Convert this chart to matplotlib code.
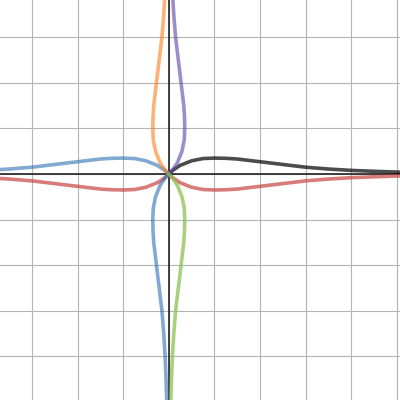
import matplotlib
matplotlib.use("Agg")
import matplotlib.pyplot as plt
import numpy as np

# distance along curve axis (units) and offset from axis (units)
t = np.array([0, 0.1, 0.25, 0.5, 0.75, 1.0, 1.25, 1.5, 2.0, 2.5, 3.0, 3.5, 4.0, 4.5, 5.1])
prof = np.array([0, 0.09, 0.19, 0.29, 0.34, 0.35, 0.345, 0.33, 0.27, 0.21, 0.15, 0.11, 0.08, 0.06, 0.04])

fig = plt.figure(figsize=(4, 4), dpi=100)
ax = fig.add_axes([0, 0, 1, 1])
ax.set_xlim(-3.7, 5.07)
ax.set_ylim(-4.96, 3.82)
for v in range(-4, 6):
    ax.axvline(v, color="#b4b4b4", lw=0.8, zorder=0)
    ax.axhline(v, color="#b4b4b4", lw=0.8, zorder=0)
ax.axvline(0, color="#222222", lw=1.2, zorder=1)
ax.axhline(0, color="#222222", lw=1.2, zorder=1)

lw = 2.6
ax.plot(t, prof, color="#000000", alpha=0.7, lw=lw)            # black right up
ax.plot(t, -prof, color="#c74440", alpha=0.7, lw=lw)           # red right down
ax.plot(-t, -prof, color="#c74440", alpha=0.7, lw=lw)          # red left down
ax.plot(-t, prof, color="#2d70b3", alpha=0.6, lw=lw)           # blue left up
ax.plot(-prof, t, color="#fa7e19", alpha=0.6, lw=lw)           # orange up left
ax.plot(prof, t, color="#6042a6", alpha=0.6, lw=lw)            # purple up right
ax.plot(-prof, -t, color="#2d70b3", alpha=0.6, lw=lw)          # blue down left
ax.plot(prof, -t, color="#8cc152", alpha=0.75, lw=lw)          # green down right
ax.axis("off")
fig.savefig("out.png", dpi=100)
